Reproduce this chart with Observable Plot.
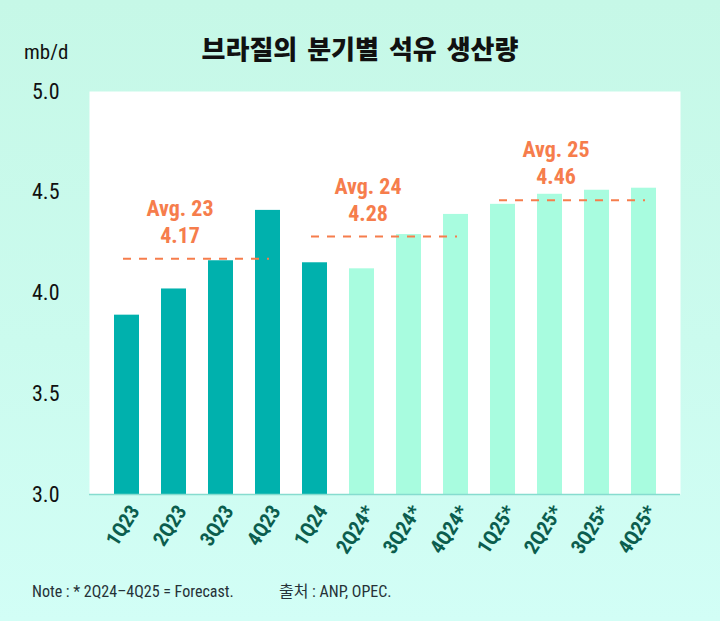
<!DOCTYPE html>
<html>
<head>
<meta charset="utf-8">
<script src="https://cdn.jsdelivr.net/npm/d3@7"></script>
<script src="https://cdn.jsdelivr.net/npm/@observablehq/plot@0.6"></script>
<style>
  html, body { margin: 0; padding: 0; }
  body {
    width: 720px; height: 621px; overflow: hidden;
    background: linear-gradient(180deg, #c6f8e7 0%, #cbfbee 55%, #d2fef6 100%);
    font-family: "Roboto Condensed", "Noto Sans CJK KR", sans-serif;
  }
  #head { position: relative; height: 80px; }
  #unit { position: absolute; left: 24px; top: 42px; font-size: 21px; line-height: 20px; color: #111; }
  #title {
    position: absolute; left: 0; right: 0; top: 35px; text-align: center;
    font: 900 26px/26px "Noto Sans CJK KR", sans-serif; word-spacing: 4px; color: #111;
  }
  #chart svg { display: block; }
  #foot { position: relative; height: 51px; color: #263238; font-size: 16px; line-height: 17px; }
  #foot span { position: absolute; top: 13px; white-space: nowrap; }
</style>
</head>
<body>
<div id="head">
  <div id="unit">mb/d</div>
  <div id="title">브라질의 분기별 석유 생산량</div>
</div>
<div id="chart"></div>
<div id="foot">
  <span style="left:32px">Note : * 2Q24–4Q25 = Forecast.</span>
  <span style="left:279px">출처 : ANP, OPEC.</span>
</div>
<script>
// Quarterly crude oil production, million barrels per day
const quarters = ["1Q23", "2Q23", "3Q23", "4Q23", "1Q24", "2Q24*", "3Q24*", "4Q24*", "1Q25*", "2Q25*", "3Q25*", "4Q25*"];
const production = [3.89, 4.02, 4.16, 4.41, 4.15, 4.12, 4.29, 4.39, 4.44, 4.49, 4.51, 4.52];
const isForecast = [false, false, false, false, false, true, true, true, true, true, true, true];

// Yearly averages and the quarters each average spans
const avgYears = ["23", "24", "25"];
const avgValues = [4.17, 4.28, 4.46];
const avgFirst = ["1Q23", "1Q24", "1Q25*"];
const avgLast = ["4Q23", "4Q24*", "4Q25*"];
const avgLabelAt = ["2Q23", "2Q24*", "2Q25*"];

const yTicks = [3.0, 3.5, 4.0, 4.5, 5.0];

const teal = "#00b1ad";
const mint = "#a8fcdf";
const orange = "#f67d4c";
const condensed = "'Roboto Condensed', 'Noto Sans CJK KR', sans-serif";

const rows = quarters.map((q, i) => ({q, v: production[i], forecast: isForecast[i]}));
const avgRows = avgYears.map((year, i) => ({
  year, avg: avgValues[i], first: avgFirst[i], last: avgLast[i], at: avgLabelAt[i]
}));

const chart = Plot.plot({
  width: 720,
  height: 490,
  marginTop: 11,
  marginBottom: 76,
  marginLeft: 89,
  marginRight: 40,
  style: {background: "transparent", fontFamily: condensed, overflow: "visible"},
  x: {type: "band", domain: quarters, padding: 0.47},
  y: {domain: [3, 5]},
  marks: [
    Plot.frame({fill: "white", stroke: null}),
    Plot.barY(rows.filter(d => !d.forecast), {x: "q", y1: 3, y2: "v", fill: teal}),
    Plot.barY(rows.filter(d => d.forecast), {x: "q", y1: 3, y2: "v", fill: mint}),
    Plot.ruleY([3], {stroke: "#86dccf", strokeWidth: 1.5}),
    Plot.ruleY(avgRows, {
      y: "avg", x1: "first", x2: "last",
      stroke: orange, strokeWidth: 2, strokeDasharray: "8,8",
      insetLeft: 9, insetRight: 11
    }),
    Plot.text(avgRows, {
      x: "at", y: "avg",
      text: d => `Avg. ${d.year}\n${d.avg.toFixed(2)}`,
      fill: orange, fontSize: 22, fontWeight: 700, lineHeight: 1.23,
      dx: 6, dy: -38
    }),
    Plot.axisY({
      ticks: yTicks, tickFormat: d3.format(".1f"), tickSize: 0, tickPadding: 30,
      fontSize: 22, color: "#111", label: null
    }),
    Plot.axisX({
      tickSize: 0, tickRotate: -57, tickPadding: 13, dx: 8,
      fontSize: 20.5, fontWeight: 700, color: "#0b5d4e", label: null
    })
  ]
});

document.getElementById("chart").appendChild(chart);
</script>
</body>
</html>
